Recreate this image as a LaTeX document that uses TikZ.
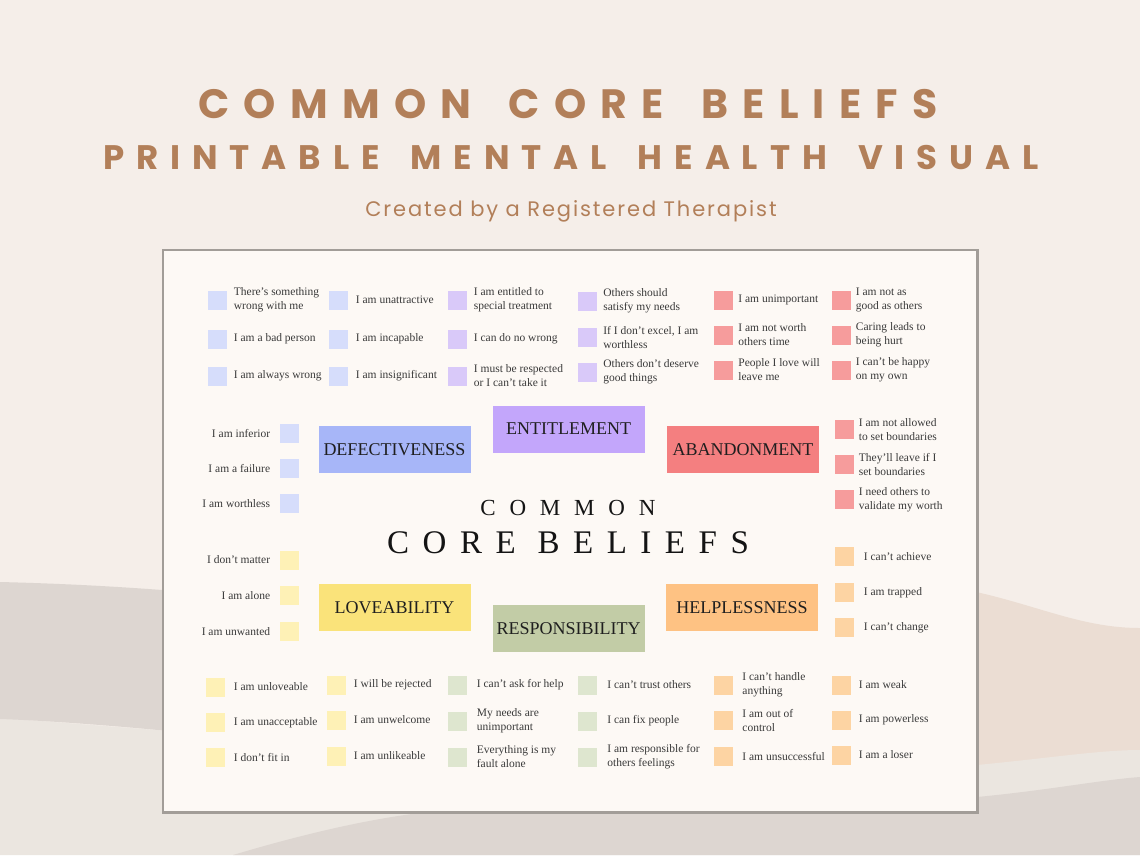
\documentclass[tikz,border=0pt]{standalone}
\usepackage{fontspec}
\setmainfont{Liberation Serif}
\newfontfamily\headfont{Poppins}[LetterSpace=35]
\newfontfamily\headBfont{Poppins}[LetterSpace=35]
\newfontfamily\subfont{Poppins}[LetterSpace=9]
\newfontfamily\coreAfont{Liberation Serif}[LetterSpace=60]
\newfontfamily\coreBfont{Liberation Serif}[LetterSpace=41]
\usetikzlibrary{positioning}

\definecolor{bgc}{HTML}{F5EEE9}
\definecolor{waveg}{HTML}{DDD6D1}
\definecolor{wavel}{HTML}{EBE6E0}
\definecolor{wavep}{HTML}{EBDDD3}
\definecolor{paper}{HTML}{FDF9F5}
\definecolor{edgec}{HTML}{A29D98}
\definecolor{brownc}{HTML}{B27F59}
\definecolor{inkc}{HTML}{3A3A3A}
\definecolor{defbox}{HTML}{A7B6F8}
\definecolor{defsq}{HTML}{D6DDFB}
\definecolor{entbox}{HTML}{C3A6FB}
\definecolor{entsq}{HTML}{D9C9F9}
\definecolor{abbox}{HTML}{F47F80}
\definecolor{absq}{HTML}{F69C9C}
\definecolor{lovbox}{HTML}{FAE37A}
\definecolor{lovsq}{HTML}{FEF1B6}
\definecolor{resbox}{HTML}{C2CCA6}
\definecolor{ressq}{HTML}{DEE6CF}
\definecolor{helbox}{HTML}{FEC283}
\definecolor{helsq}{HTML}{FDD4A3}

\begin{document}
\begin{tikzpicture}[x=1pt,y=-1pt,
  sq/.style={rectangle,minimum size=19pt,inner sep=0pt},
  item/.style={inner sep=0pt,align=left,text=inkc,font=\fontsize{11.5}{14}\selectfont},
  itemr/.style={item,align=right},
  cat/.style={rectangle,inner sep=0pt,minimum width=152pt,minimum height=47pt,text=black!88,font=\fontsize{18}{20}\selectfont}]

\useasboundingbox (0,0) rectangle (1140,855);

%background waves
\fill[bgc] (0,0) rectangle (1140,855);
\fill[wavep] (930,584) .. controls (1020,595) and (1070,628) .. (1140,628) -- (1140,790) -- (930,790) -- cycle;
\fill[wavel] (0,718) .. controls (300,740) and (700,780) .. (977,765) .. controls (1050,758) and (1100,750) .. (1140,750) -- (1140,855) -- (0,855) -- cycle;
\fill[waveg] (0,582) .. controls (80,584) and (140,588) .. (200,593) -- (200,734) .. controls (140,728) and (60,721) .. (0,719) -- cycle;
\fill[waveg] (233,855) .. controls (300,835) and (380,815) .. (450,810) -- (977,797) .. controls (1050,790) and (1100,780) .. (1140,777) -- (1140,855) -- cycle;

%titles
\node[inner sep=0pt,text=brownc,font=\headfont\bfseries\fontsize{41}{41}\selectfont] (title1) at (568,104) {COMMON\hspace{14pt} CORE\hspace{14pt} BELIEFS};
\node[inner sep=0pt,text=brownc,font=\headBfont\bfseries\fontsize{34}{34}\selectfont] (title2) at (571,158) {PRINTABLE\hspace{12pt} MENTAL\hspace{12pt} HEALTH\hspace{12pt} VISUAL};
\node[inner sep=0pt,anchor=base,text=brownc,font=\subfont\fontsize{21}{21}\selectfont] (title3) at (571,216) {Created by a Registered Therapist};

%card
\fill[edgec] (162,249) rectangle (979,814);
\fill[paper] (164,251) rectangle (976,811);

%top grid
\node[sq,fill=defsq] (s11) at (217,300) {};
\node[item,right=7pt of s11] (t11) {There's something\\wrong with me};
\node[sq,fill=defsq] (s12) at (217,339) {};
\node[item,right=7pt of s12] (t12) {I am a bad person};
\node[sq,fill=defsq] (s13) at (217,376) {};
\node[item,right=7pt of s13] (t13) {I am always wrong};

\node[sq,fill=defsq] (s21) at (338,300) {};
\node[item,right=8pt of s21] (t21) {I am unattractive};
\node[sq,fill=defsq] (s22) at (338,339) {};
\node[item,right=8pt of s22] (t22) {I am incapable};
\node[sq,fill=defsq] (s23) at (338,376) {};
\node[item,right=8pt of s23] (t23) {I am insignificant};

\node[sq,fill=entsq] (s31) at (457,300) {};
\node[item,right=7pt of s31] (t31) {I am entitled to\\special treatment};
\node[sq,fill=entsq] (s32) at (457,339) {};
\node[item,right=7pt of s32] (t32) {I can do no wrong};
\node[sq,fill=entsq] (s33) at (457,376) {};
\node[item,right=7pt of s33] (t33) {I must be respected\\or I can't take it};

\node[sq,fill=entsq] (s41) at (587.5,301) {};
\node[item,right=6pt of s41] (t41) {Others should\\satisfy my needs};
\node[sq,fill=entsq] (s42) at (587.5,337) {};
\node[item,right=6pt of s42] (t42) {If I don't excel, I am\\worthless};
\node[sq,fill=entsq] (s43) at (587.5,372) {};
\node[item,right=6pt of s43] (t43) {Others don't deserve\\good things};

\node[sq,fill=absq] (s51) at (723.5,300) {};
\node[item,right=5pt of s51] (t51) {I am unimportant};
\node[sq,fill=absq] (s52) at (723.5,335) {};
\node[item,right=5pt of s52] (t52) {I am not worth\\others time};
\node[sq,fill=absq] (s53) at (723.5,370) {};
\node[item,right=5pt of s53] (t53) {People I love will\\leave me};

\node[sq,fill=absq] (s61) at (841,300) {};
\node[item,right=5pt of s61] (t61) {I am not as\\good as others};
\node[sq,fill=absq] (s62) at (841,335) {};
\node[item,right=5pt of s62] (t62) {Caring leads to\\being hurt};
\node[sq,fill=absq] (s63) at (841,370) {};
\node[item,right=5pt of s63] (t63) {I can't be happy\\on my own};

%categories
\node[cat,fill=defbox] (def) at (394.5,449.5) {DEFECTIVENESS};
\node[cat,fill=entbox] (ent) at (568.5,429) {ENTITLEMENT};
\node[cat,fill=abbox] (aba) at (743,449.5) {ABANDONMENT};
\node[cat,fill=lovbox] (lov) at (394.5,607.5) {LOVEABILITY};
\node[cat,fill=resbox] (res) at (568.5,628.5) {RESPONSIBILITY};
\node[cat,fill=helbox] (hel) at (742,607.5) {HELPLESSNESS};

%centre
\node[inner sep=0pt,text=black!92,font=\coreAfont\fontsize{23}{23}\selectfont] (core1) at (568,507.5) {COMMON};
\node[inner sep=0pt,text=black!92,font=\coreBfont\fontsize{33}{33}\selectfont] (core2) at (568,543) {CORE BELIEFS};

%left lists
\node[sq,fill=defsq] (l1) at (289.5,433.5) {};
\node[itemr,left=9.5pt of l1] (lt1) {I am inferior};
\node[sq,fill=defsq] (l2) at (289.5,468.5) {};
\node[itemr,left=9.5pt of l2] (lt2) {I am a failure};
\node[sq,fill=defsq] (l3) at (289.5,503.5) {};
\node[itemr,left=9.5pt of l3] (lt3) {I am worthless};
\node[sq,fill=lovsq] (l4) at (289.5,560) {};
\node[itemr,left=9.5pt of l4] (lt4) {I don't matter};
\node[sq,fill=lovsq] (l5) at (289.5,595.5) {};
\node[itemr,left=9.5pt of l5] (lt5) {I am alone};
\node[sq,fill=lovsq] (l6) at (289.5,631.5) {};
\node[itemr,left=9.5pt of l6] (lt6) {I am unwanted};

%right lists
\node[sq,fill=absq] (r1) at (844,429.5) {};
\node[item,right=5pt of r1] (rt1) {I am not allowed\\to set boundaries};
\node[sq,fill=absq] (r2) at (844,464.5) {};
\node[item,right=5pt of r2] (rt2) {They'll leave if I\\set boundaries};
\node[sq,fill=absq] (r3) at (844,499.5) {};
\node[item,right=5pt of r3] (rt3) {I need others to\\validate my worth};
\node[sq,fill=helsq] (r4) at (844,556.5) {};
\node[item,right=10pt of r4] (rt4) {I can't achieve};
\node[sq,fill=helsq] (r5) at (844,592.5) {};
\node[item,right=10pt of r5] (rt5) {I am trapped};
\node[sq,fill=helsq] (r6) at (844,627.5) {};
\node[item,right=10pt of r6] (rt6) {I can't change};

%bottom grid
\node[sq,fill=lovsq] (u11) at (215,687) {};
\node[item,right=9pt of u11] (v11) {I am unloveable};
\node[sq,fill=lovsq] (u12) at (215,722.5) {};
\node[item,right=9pt of u12] (v12) {I am unacceptable};
\node[sq,fill=lovsq] (u13) at (215,757.5) {};
\node[item,right=9pt of u13] (v13) {I don't fit in};

\node[sq,fill=lovsq] (u21) at (336,685) {};
\node[item,right=8pt of u21] (v21) {I will be rejected};
\node[sq,fill=lovsq] (u22) at (336,720) {};
\node[item,right=8pt of u22] (v22) {I am unwelcome};
\node[sq,fill=lovsq] (u23) at (336,756) {};
\node[item,right=8pt of u23] (v23) {I am unlikeable};

\node[sq,fill=ressq] (u31) at (457,685) {};
\node[item,right=10pt of u31] (v31) {I can't ask for help};
\node[sq,fill=ressq] (u32) at (457,721) {};
\node[item,right=10pt of u32] (v32) {My needs are\\unimportant};
\node[sq,fill=ressq] (u33) at (457,757) {};
\node[item,right=10pt of u33] (v33) {Everything is my\\fault alone};

\node[sq,fill=ressq] (u41) at (587.5,685) {};
\node[item,right=10pt of u41] (v41) {I can't trust others};
\node[sq,fill=ressq] (u42) at (587.5,721) {};
\node[item,right=10pt of u42] (v42) {I can fix people};
\node[sq,fill=ressq] (u43) at (587.5,757) {};
\node[item,right=10pt of u43] (v43) {I am responsible for\\others feelings};

\node[sq,fill=helsq] (u51) at (723.5,685) {};
\node[item,right=9pt of u51] (v51) {I can't handle\\anything};
\node[sq,fill=helsq] (u52) at (723.5,720) {};
\node[item,right=9pt of u52] (v52) {I am out of\\control};
\node[sq,fill=helsq] (u53) at (723.5,756) {};
\node[item,right=9pt of u53] (v53) {I am unsuccessful};

\node[sq,fill=helsq] (u61) at (841,685) {};
\node[item,right=8pt of u61] (v61) {I am weak};
\node[sq,fill=helsq] (u62) at (841,720) {};
\node[item,right=8pt of u62] (v62) {I am powerless};
\node[sq,fill=helsq] (u63) at (841,755) {};
\node[item,right=8pt of u63] (v63) {I am a loser};

\end{tikzpicture}
\end{document}
